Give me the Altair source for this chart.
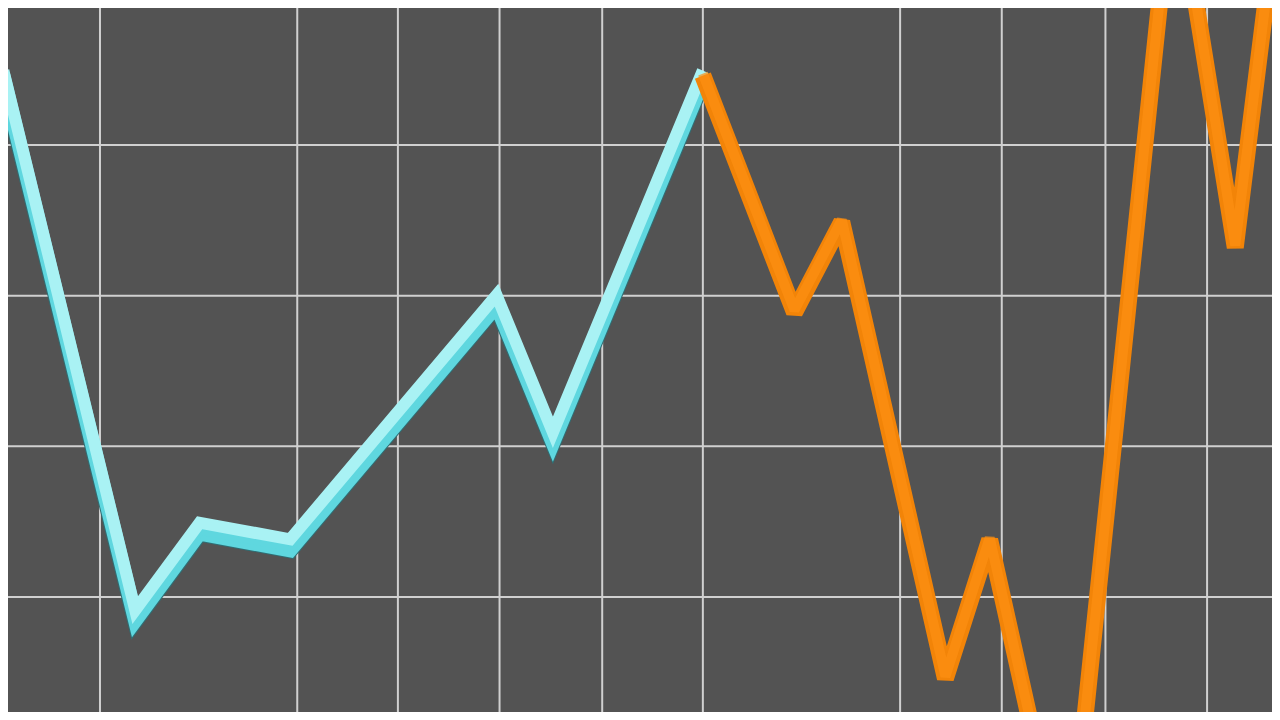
import altair as alt
import pandas as pd

# Series (x in grid-cell units, y in grid units of 10)
cyan_x = [0.04, 1.35, 1.99, 2.89, 4.94, 5.50, 6.99]
cyan_y = [44.6, 8.8, 14.6, 13.5, 29.7, 20.6, 44.6]

orange_x = [6.99, 7.90, 8.37, 9.40, 9.84, 10.61, 11.67, 12.28, 12.92]
orange_y = [44.6, 28.9, 34.9, 4.6, 13.8, -9.3, 58.5, 33.2, 67.5]

# grid line positions
grid_x = [1.0, 2.96, 3.96, 4.97, 5.99, 6.99, 8.95, 9.96, 10.99, 12.0]
grid_y = [10, 20, 30, 40]

BG = "#535353"
GRID = "#d0d0d0"

cyan = pd.DataFrame({"x": cyan_x, "y": cyan_y, "i": range(len(cyan_x))})
orange = pd.DataFrame({"x": orange_x, "y": orange_y, "i": range(len(orange_x))})
gx = pd.DataFrame({"x": grid_x})
gy = pd.DataFrame({"y": grid_y})

xscale = alt.Scale(domain=[0.086, 12.645], nice=False, zero=False)
yscale = alt.Scale(domain=[2.37, 49.09], nice=False, zero=False)

X = alt.X("x:Q", scale=xscale, axis=None)
Y = alt.Y("y:Q", scale=yscale, axis=None)

vgrid = alt.Chart(gx).mark_rule(color=GRID, strokeWidth=2).encode(x=X)
hgrid = alt.Chart(gy).mark_rule(color=GRID, strokeWidth=2).encode(y=Y)


def line(df, **kw):
    return alt.Chart(df).mark_line(clip=True, strokeCap="butt", **kw).encode(
        x=X, y=Y, order="i:Q")


cyan_layers = [
    line(cyan, color="#2f6f75", strokeWidth=16, strokeJoin="miter", yOffset=6),
    line(cyan, color="#5fd7df", strokeWidth=14, strokeJoin="miter", yOffset=6),
    line(cyan, color="#5fd7df", strokeWidth=14, strokeJoin="miter", yOffset=0),
    line(cyan, color="#a9f2f4", strokeWidth=12, strokeJoin="miter", yOffset=-5),
]
orange_layers = [
    line(orange, color="#f28408", strokeWidth=17, strokeJoin="bevel"),
    line(orange, color="#fd9012", strokeWidth=10, strokeJoin="bevel", yOffset=-2,
         opacity=0.7),
]

chart = alt.layer(vgrid, hgrid, *cyan_layers, *orange_layers).properties(
    width=1264, height=704, padding=0, background=BG,
    autosize=alt.AutoSizeParams(type="none"),
).configure_view(stroke=None, fill=BG)

chart.save("out.html", embed_options={"renderer": "svg", "actions": False})
